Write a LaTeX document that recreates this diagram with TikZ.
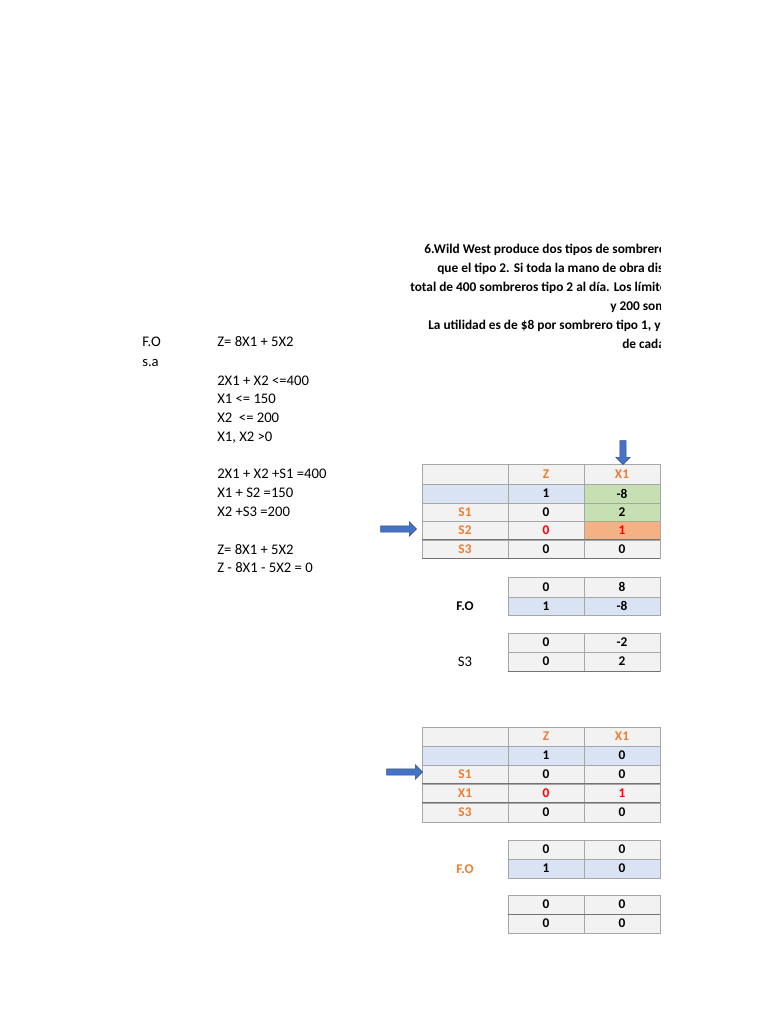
\documentclass[tikz,border=0pt]{standalone}
\usepackage{fontspec}
\setmainfont{Carlito}
\usetikzlibrary{shapes.arrows}
\definecolor{cg}{HTML}{F2F2F2}
\definecolor{cb}{HTML}{DAE3F3}
\definecolor{cgr}{HTML}{C6E0B4}
\definecolor{cor}{HTML}{F4B183}
\definecolor{tor}{HTML}{ED7D31}
\definecolor{tred}{HTML}{FF0000}
\definecolor{bord}{HTML}{A6A6A6}
\definecolor{arr}{HTML}{4472C4}
\tikzset{cellst/.style={draw=bord,line width=0.6pt,inner sep=0pt,font=\bfseries},
 txt/.style={anchor=base west,inner sep=0pt},
 sep/.style={draw=black!55,line width=1.3pt},
 blk/.style={single arrow,draw=arr!70!black,fill=arr,minimum height=#1,single arrow head extend=3pt,inner sep=2.2pt,line width=0.4pt}}
\newcommand\cel[8]{\node[cellst,fill=#6,text=#7,minimum width={(#3-#2)*0.75pt},minimum height={(#5-#4)*0.75pt}] (#1) at ({(#2+#3)/2},{(#4+#5)/2}) {#8};}
\begin{document}
\begin{tikzpicture}[x=0.75pt,y=-0.75pt,font=\fontsize{11}{13}\selectfont]
\useasboundingbox[fill=white] (0,0) rectangle (768,1024);
% title
\begin{scope}
\clip (380,230) rectangle (660,360);
\node[txt,font=\bfseries] (t1) at (424,253) {6.Wild West produce dos tipos de sombreros vaqueros. El sombrero};
\node[txt,font=\bfseries] (t2) at (437,272) {que el tipo 2. Si toda la mano de obra disponible};
\node[txt,font=\bfseries] (t3) at (410,291) {total de 400 sombreros tipo 2 al día. Los límites};
\node[txt,font=\bfseries] (t4) at (610,310) {y 200 sombreros};
\node[txt,font=\bfseries] (t5) at (428,329) {La utilidad es de \$8 por sombrero tipo 1, y de \$5};
\node[txt,font=\bfseries] (t6) at (622,348) {de cada uno};
\end{scope}
% model
\node[txt] (fo) at (142,346) {F.O};
\node[txt] (z) at (217,346) {Z= 8X1 + 5X2};
\node[txt] (sa) at (142,366) {s.a};
\node[txt] (e1) at (217,385) {2X1 + X2 <=400};
\node[txt] (e2) at (217,403) {X1 <= 150};
\node[txt] (e3) at (217,422) {X2 \ <= 200};
\node[txt] (e4) at (217,441) {X1, X2 >0};
\node[txt] (f1) at (217,478) {2X1 + X2 +S1 =400};
\node[txt] (f2) at (217,497) {X1 + S2 =150};
\node[txt] (f3) at (217,516) {X2 +S3 =200};
\node[txt] (g1) at (217,554) {Z= 8X1 + 5X2};
\node[txt] (g2) at (217,572) {Z - 8X1 - 5X2 = 0};
% table 1
\cel{a00}{422}{508}{464}{484}{cg}{black}{}
\cel{a01}{508}{584}{464}{484}{cg}{tor}{Z}
\cel{a02}{584}{660}{464}{484}{cg}{tor}{X1}
\cel{a10}{422}{508}{484}{503}{cb}{black}{}
\cel{a11}{508}{584}{484}{503}{cb}{black}{1}
\cel{a12}{584}{660}{484}{503}{cgr}{black}{-8}
\cel{a20}{422}{508}{503}{521}{cg}{tor}{S1}
\cel{a21}{508}{584}{503}{521}{cg}{black}{0}
\cel{a22}{584}{660}{503}{521}{cgr}{black}{2}
\cel{a30}{422}{508}{521}{540}{cg}{tor}{S2}
\cel{a31}{508}{584}{521}{540}{cg}{tred}{0}
\cel{a32}{584}{660}{521}{540}{cor}{tred}{1}
\cel{a40}{422}{508}{540}{558}{cg}{tor}{S3}
\cel{a41}{508}{584}{540}{558}{cg}{black}{0}
\cel{a42}{584}{660}{540}{558}{cg}{black}{0}
\draw[sep] (a40.north west) -- (a42.north east);
\draw[sep] (a40.south west) -- (a42.south east);
\cel{b01}{508}{584}{577}{597}{cg}{black}{0}
\cel{b02}{584}{660}{577}{597}{cg}{black}{8}
\cel{b11}{508}{584}{597}{615}{cb}{black}{1}
\cel{b12}{584}{660}{597}{615}{cb}{black}{-8}
\node[font=\bfseries] (bl) at (465,606) {F.O};
\cel{c01}{508}{584}{633}{652}{cg}{black}{0}
\cel{c02}{584}{660}{633}{652}{cg}{black}{-2}
\cel{c11}{508}{584}{652}{671}{cg}{black}{0}
\cel{c12}{584}{660}{652}{671}{cg}{black}{2}
\draw[sep] (c11.south west) -- (c12.south east);
\node (cl) at (465,662) {S3};
\node[blk=24*0.75pt,shape border rotate=270] (ar1) at (623,451) {};
\node[blk=36*0.75pt] (ar2) at (397,529) {};
% table 2
\cel{d00}{422}{508}{727}{746}{cg}{black}{}
\cel{d01}{508}{584}{727}{746}{cg}{tor}{Z}
\cel{d02}{584}{660}{727}{746}{cg}{tor}{X1}
\cel{d10}{422}{508}{746}{765}{cb}{black}{}
\cel{d11}{508}{584}{746}{765}{cb}{black}{1}
\cel{d12}{584}{660}{746}{765}{cb}{black}{0}
\cel{d20}{422}{508}{765}{784}{cg}{tor}{S1}
\cel{d21}{508}{584}{765}{784}{cg}{black}{0}
\cel{d22}{584}{660}{765}{784}{cg}{black}{0}
\cel{d30}{422}{508}{784}{803}{cg}{tor}{X1}
\cel{d31}{508}{584}{784}{803}{cg}{tred}{0}
\cel{d32}{584}{660}{784}{803}{cg}{tred}{1}
\cel{d40}{422}{508}{803}{822}{cg}{tor}{S3}
\cel{d41}{508}{584}{803}{822}{cg}{black}{0}
\cel{d42}{584}{660}{803}{822}{cg}{black}{0}
\draw[sep] (d30.north west) -- (d32.north east);
\draw[sep] (d40.north west) -- (d42.north east);
\cel{e01}{508}{584}{840}{859}{cg}{black}{0}
\cel{e02}{584}{660}{840}{859}{cg}{black}{0}
\cel{e11}{508}{584}{859}{878}{cb}{black}{1}
\cel{e12}{584}{660}{859}{878}{cb}{black}{0}
\node[font=\bfseries,text=tor] (el) at (465,869) {F.O};
\cel{h01}{508}{584}{895}{914}{cg}{black}{0}
\cel{h02}{584}{660}{895}{914}{cg}{black}{0}
\cel{h11}{508}{584}{914}{933}{cg}{black}{0}
\cel{h12}{584}{660}{914}{933}{cg}{black}{0}
\draw[sep,line width=0.9pt] (h01.south west) -- (h02.south east);
\node[blk=36*0.75pt] (ar3) at (403,772) {};
\end{tikzpicture}
\end{document}
